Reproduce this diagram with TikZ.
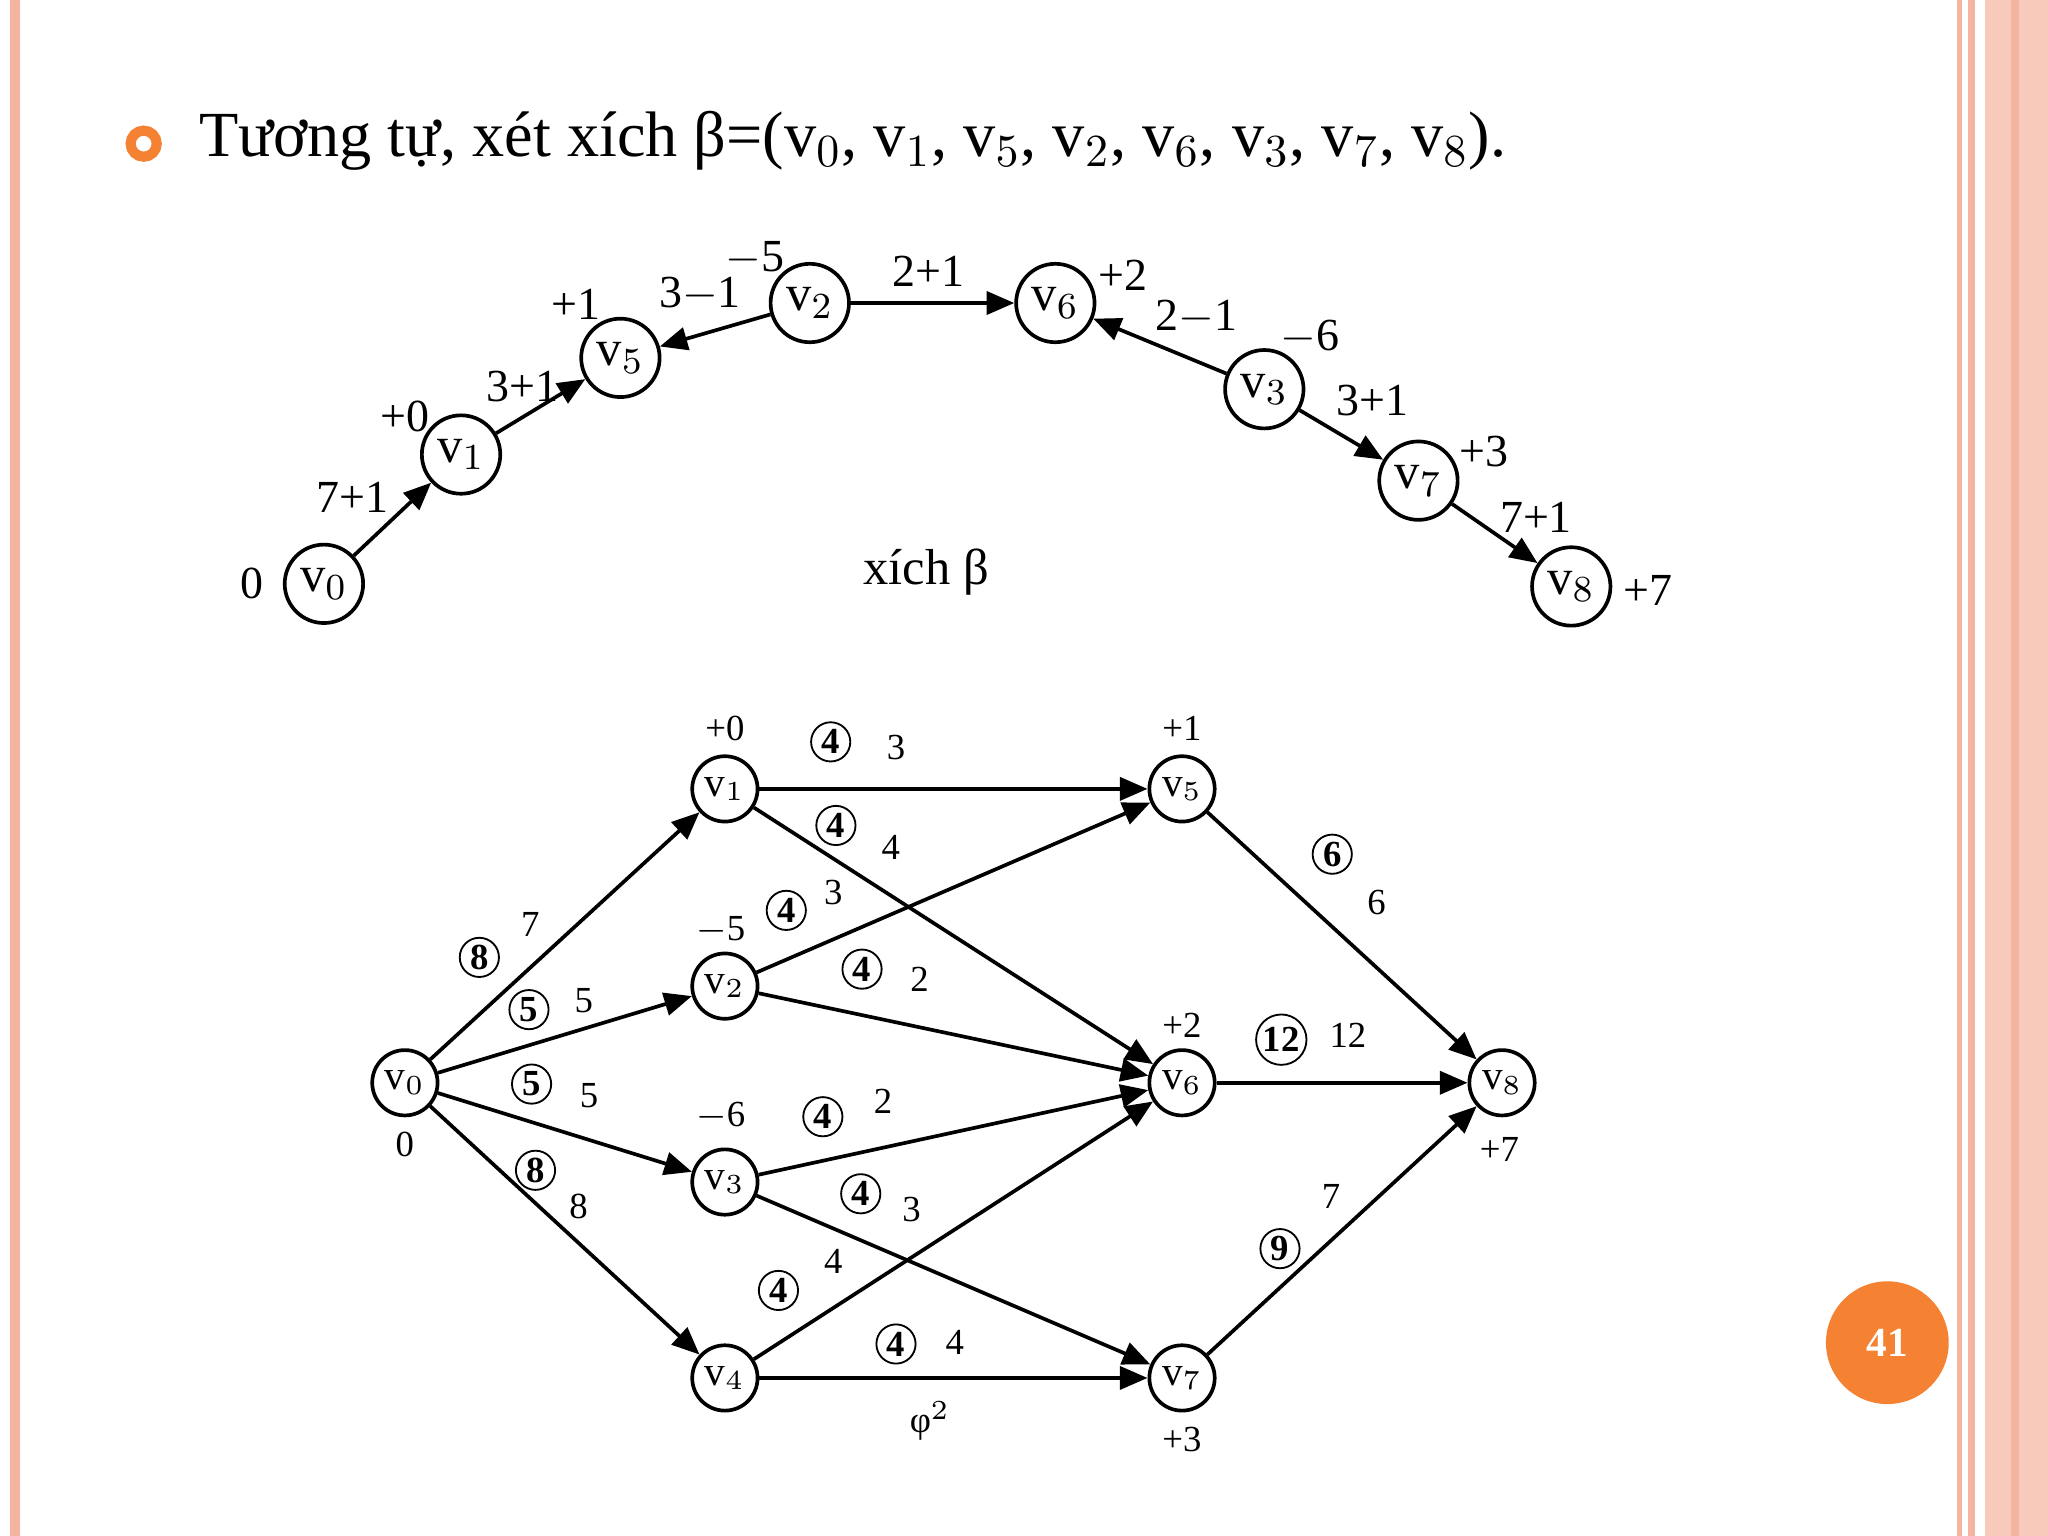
\documentclass[tikz,border=0pt]{standalone}
\usepackage{fontspec}
\setmainfont{Liberation Serif}
\usetikzlibrary{arrows.meta}
\definecolor{sal}{RGB}{245,180,160}
\definecolor{org}{RGB}{245,130,50}
\begin{document}
\begin{tikzpicture}[x=0.01cm,y=-0.01cm,
 vt/.style={circle,draw,thick,minimum size=0.6cm,inner sep=0pt,font=\fontsize{11}{11}\selectfont},
 vb/.style={circle,draw,thick,minimum size=0.5cm,inner sep=0pt,font=\fontsize{9}{9}\selectfont},
 ar/.style={-{Triangle[length=6pt,width=5pt]},thick},
 lt/.style={font=\fontsize{10}{10}\selectfont},
 lb/.style={font=\fontsize{8}{8}\selectfont},
 cn/.style={circle,draw,inner sep=0.5pt,minimum size=0.3cm,font=\fontsize{8}{8}\selectfont\bfseries}]
\useasboundingbox (0,0) rectangle (1568,1176);
\fill[white] (0,0) rectangle (1568,1176);
\fill[sal] (8,0) rectangle (15,1176);
\fill[sal] (1498,0) rectangle (1502,1176);
\fill[sal] (1507,0) rectangle (1512,1176);
\fill[sal!70] (1520,0) rectangle (1568,1176);
\fill[sal] (1540,0) rectangle (1546,1176);
\draw[org,line width=2.2pt] (110,110) circle (10);
\node[anchor=west,font=\fontsize{14}{14}\selectfont] (title) at (140,108) {Tương tự, xét xích β=(v$_0$, v$_1$, v$_5$, v$_2$, v$_6$, v$_3$, v$_7$, v$_8$).};
% top chain
\node[vt] (a0) at (248,447) {v$_0$};
\node[vt] (a1) at (353,348) {v$_1$};
\node[vt] (a5) at (475,274) {v$_5$};
\node[vt] (a2) at (620,232) {v$_2$};
\node[vt] (a6) at (808,232) {v$_6$};
\node[vt] (a3) at (968,298) {v$_3$};
\node[vt] (a7) at (1086,368) {v$_7$};
\node[vt] (a8) at (1203,449) {v$_8$};
\draw[ar] (a0)--(a1); \draw[ar] (a1)--(a5); \draw[ar] (a2)--(a5); \draw[ar] (a2)--(a6);
\draw[ar] (a3)--(a6); \draw[ar] (a3)--(a7); \draw[ar] (a7)--(a8);
\foreach \p/\t in {{(193,447)}/0,{(270,381)}/7+1,{(310,319)}/+0,{(400,296)}/3+1,{(441,233)}/+1,{(536,225)}/3$-$1,{(578,198)}/$-$5,{(711,208)}/2+1,{(860,211)}/+2,{(916,243)}/2$-$1,{(1003,258)}/$-$6,{(1051,307)}/3+1,{(1136,346)}/+3,{(1176,396)}/7+1,{(1262,452)}/+7}
 \node[lt] at \p {\t};
\node[font=\fontsize{11}{11}\selectfont] (xb) at (709,438) {xích β};
% bottom graph
\node[vb] (b0) at (310,829) {v$_0$};
\node[vb] (b1) at (555,604) {v$_1$};
\node[vb] (b2) at (555,755) {v$_2$};
\node[vb] (b3) at (555,905) {v$_3$};
\node[vb] (b4) at (555,1055) {v$_4$};
\node[vb] (b5) at (905,604) {v$_5$};
\node[vb] (b6) at (905,829) {v$_6$};
\node[vb] (b7) at (905,1055) {v$_7$};
\node[vb] (b8) at (1150,829) {v$_8$};
\foreach \a/\b in {b0/b1,b0/b2,b0/b3,b0/b4,b1/b5,b1/b6,b2/b5,b2/b6,b3/b6,b3/b7,b4/b6,b4/b7,b5/b8,b6/b8,b7/b8}
 \draw[ar] (\a)--(\b);
\foreach \p/\t in {{(555,558)}/+0,{(905,558)}/+1,{(552,712)}/$-$5,{(905,785)}/+2,{(552,855)}/$-$6,{(310,876)}/0,{(1148,880)}/+7,{(905,1102)}/+3,{(686,572)}/3,{(682,649)}/4,{(638,683)}/3,{(704,750)}/2,{(406,708)}/7,{(447,766)}/5,{(451,839)}/5,{(443,924)}/8,{(1054,691)}/6,{(1032,793)}/12,{(676,843)}/2,{(698,926)}/3,{(638,966)}/4,{(731,1028)}/4,{(1019,916)}/7}
 \node[lb] at \p {\t};
\node[lb] (phi) at (712,1088) {φ$^2$};
\foreach \p/\t in {{(636,568)}/4,{(640,632)}/4,{(602,697)}/4,{(660,742)}/4,{(367,733)}/8,{(405,773)}/5,{(407,830)}/5,{(410,896)}/8,{(1020,654)}/6,{(981,796)}/12,{(630,855)}/4,{(659,914)}/4,{(596,988)}/4,{(686,1029)}/4,{(980,956)}/9}
 \node[cn] at \p {\t};
\fill[org] (1445,1028) circle (47);
\node[white,font=\fontsize{9}{9}\selectfont\bfseries] (pg) at (1445,1028) {41};
\end{tikzpicture}
\end{document}
